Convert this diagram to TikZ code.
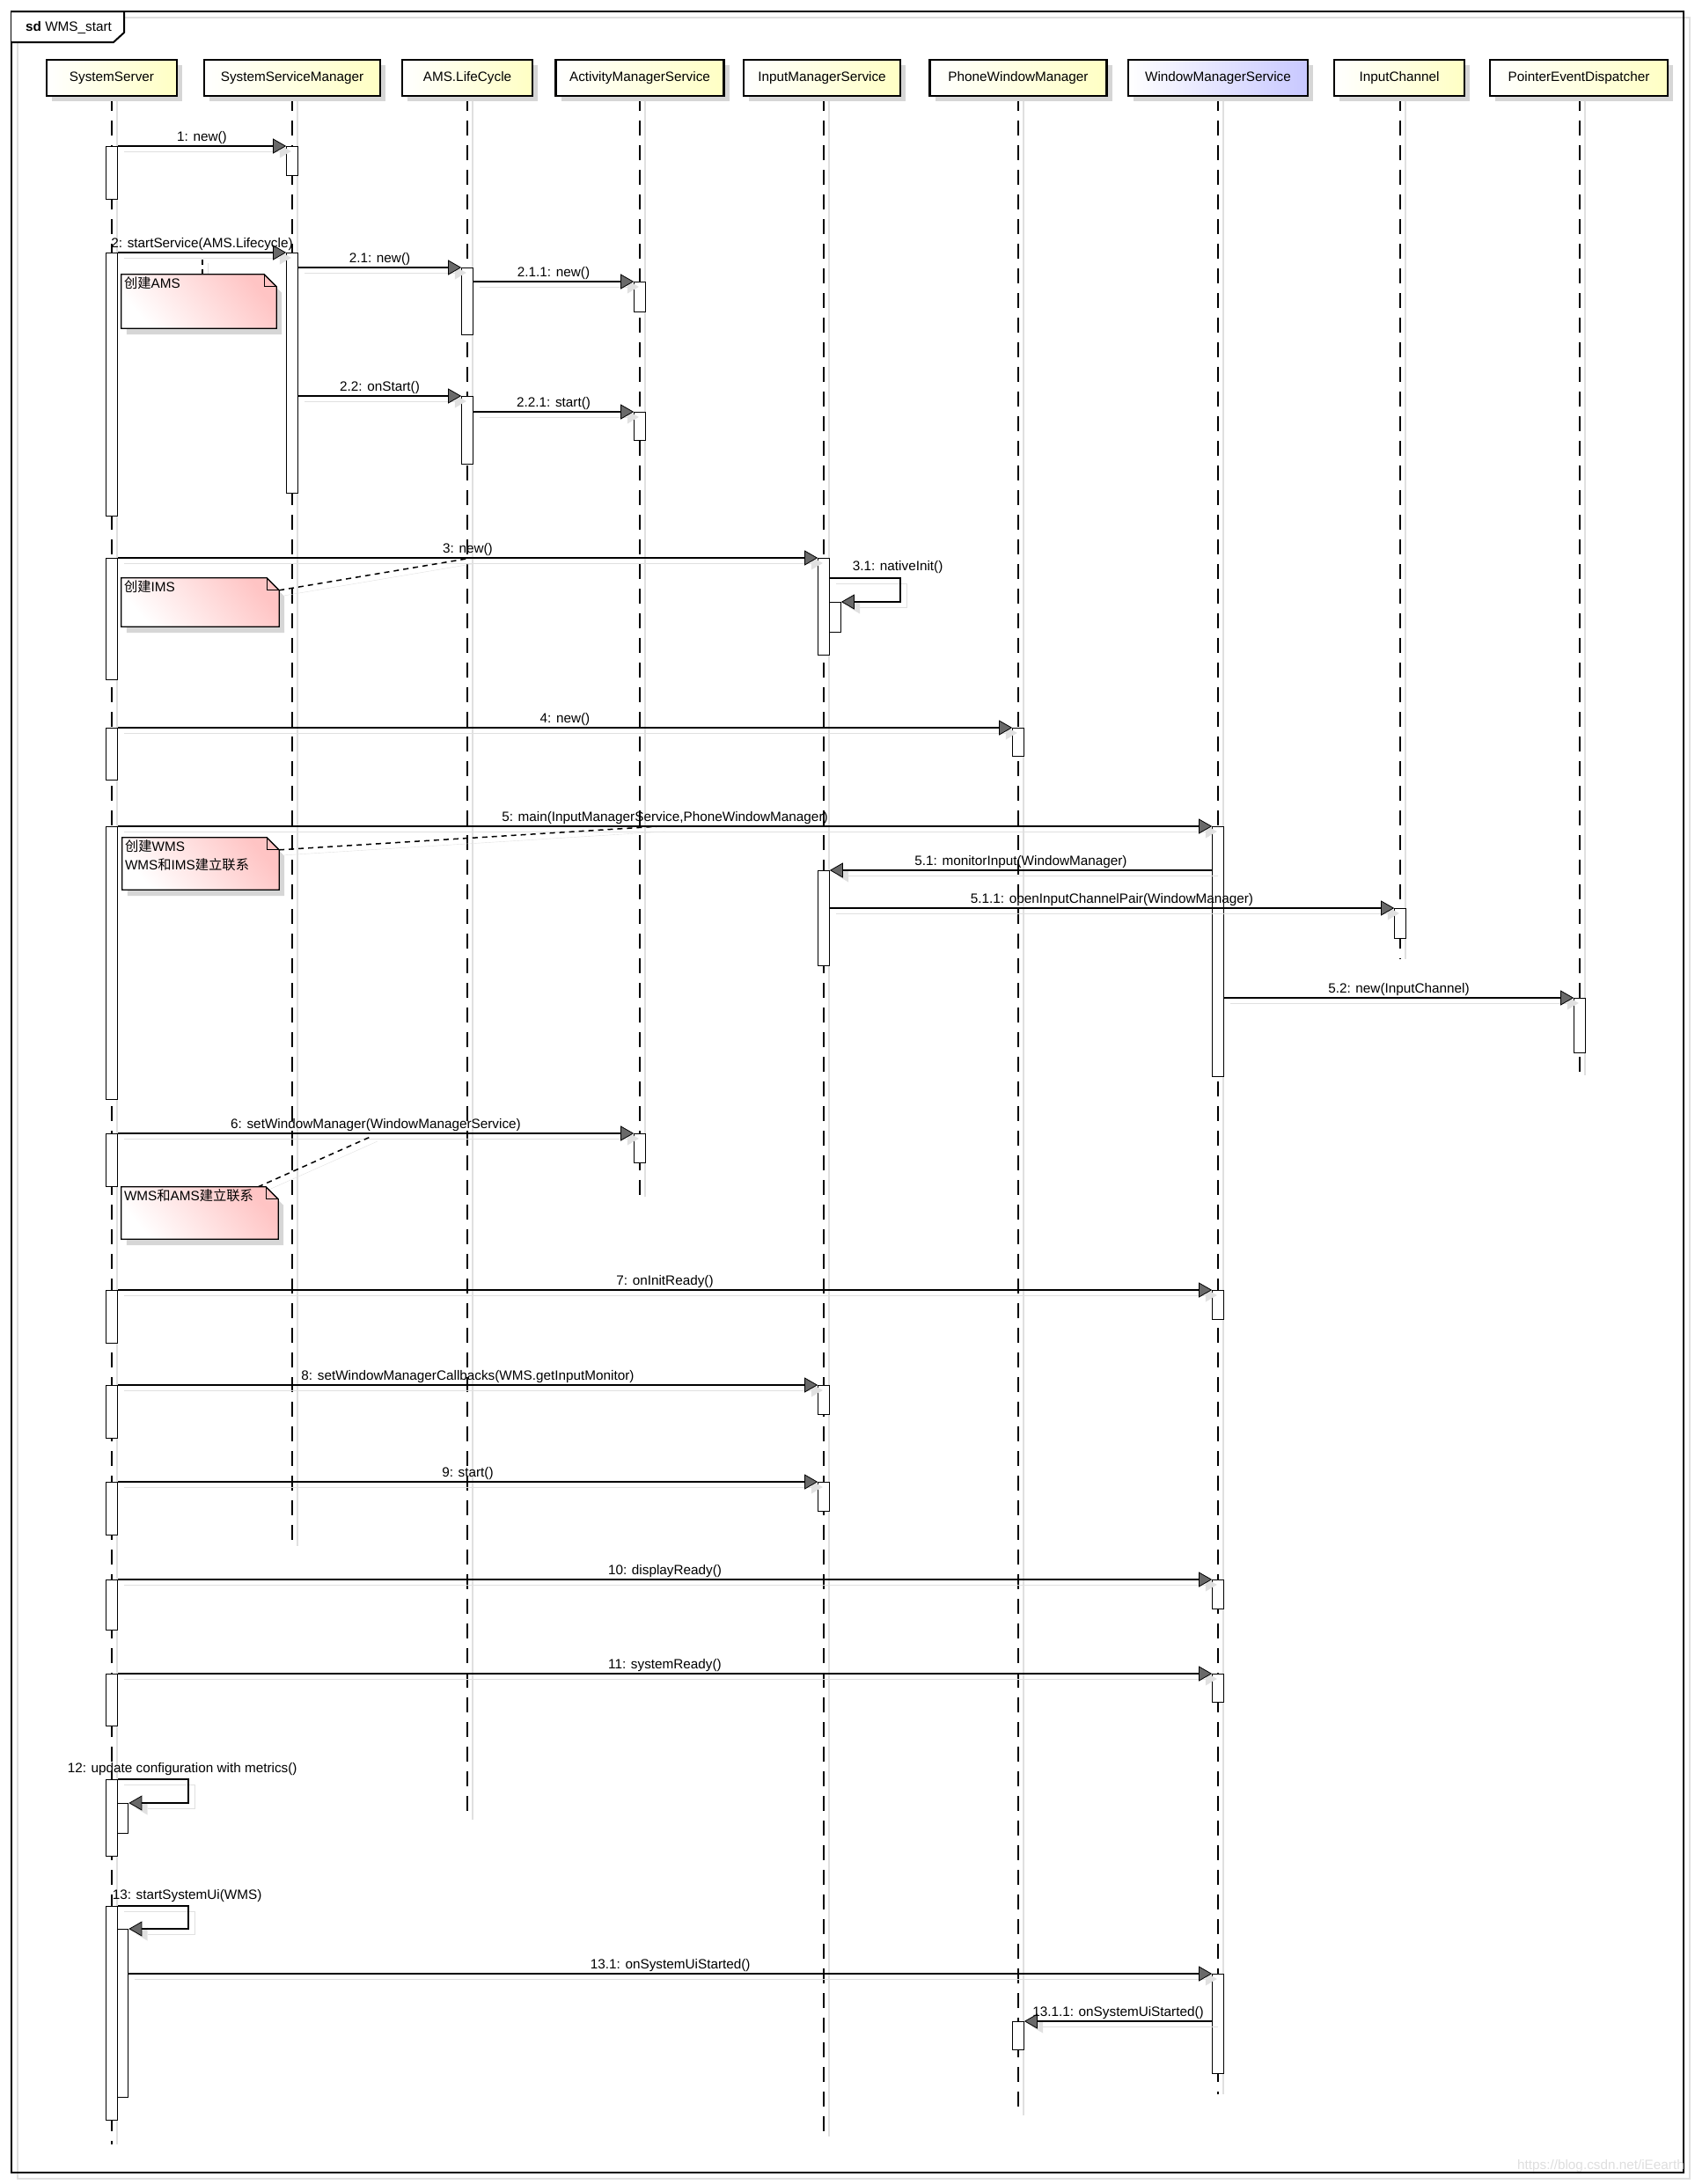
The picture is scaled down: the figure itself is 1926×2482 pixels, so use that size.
\documentclass[tikz,border=0pt]{standalone}
\usepackage{fontspec}
\setmainfont{Liberation Sans}
\newfontfamily\cjk{Noto Sans CJK SC}
\usepackage{tikz}
\usetikzlibrary{arrows.meta,shadows}
\definecolor{hdryellow}{RGB}{255,255,196}
\definecolor{hdrblue}{RGB}{200,200,255}
\definecolor{notepink}{RGB}{255,196,196}
\definecolor{shadegray}{RGB}{214,214,214}
\definecolor{lineshade}{RGB}{224,224,224}
\definecolor{tipgray}{RGB}{105,105,105}
\newcommand{\lblsize}{\fontsize{15.3}{21}\selectfont}
\newcommand{\fold}{14pt}
\newcommand{\notepath}[1]{(#1.north west) -- ([xshift=-\fold]#1.north east) -- ([yshift=-\fold]#1.north east) -- (#1.south east) -- (#1.south west) -- cycle}
\newcommand{\drawnote}[1]{%
    \fill[shadegray, transform canvas={shift={(6,7)}}] \notepath{#1};
    \shade[top color=notepink, bottom color=white, shading angle=-50] \notepath{#1};
    \draw[line width=1.3pt] \notepath{#1};
    \draw[line width=1.3pt] ([xshift=-\fold]#1.north east) |- ([yshift=-\fold]#1.north east);
}

\begin{document}
\begin{tikzpicture}[x=1pt, y=-1pt]
                        %\draw[help lines, step=100] (0,0) grid (1926,2482);
                        \useasboundingbox (0,0) rectangle (1926,2482);
                        \tikzset{
                            hdr/.style = {draw, line width=2.6pt, minimum height=41pt, inner sep=2pt, font=\lblsize,
                                left color=white, right color=hdryellow,
                                drop shadow={shadow xshift=6pt, shadow yshift=-6pt, fill=shadegray, opacity=1}},
                            lifeline/.style = {line width=1.4pt, dash pattern=on 17pt off 11pt},
                            lifeshade/.style = {lineshade, line width=1.4pt},
                            bar/.style = {draw, fill=white, line width=1.2pt, minimum width=12.5pt, inner sep=0pt, anchor=north},
                            msg/.style = {line width=1.8pt, -{Triangle[length=15pt, width=17pt, fill=tipgray, line width=0.8pt]},
                                preaction={draw=lineshade, -{Triangle[length=15pt, width=17pt, fill=lineshade, color=lineshade]},
                                transform canvas={shift={(7,6)}}}},
                            lbl/.style = {anchor=south, inner sep=1pt, font=\lblsize},
                            notelink/.style = {line width=1.5pt, dash pattern=on 6pt off 5pt,
                                preaction={draw=lineshade, solid, transform canvas={shift={(6,6)}}}},
                            notetext/.style = {anchor=north west, inner sep=3pt, align=left, font=\lblsize},
                            notebox/.style = {inner sep=0pt, draw=none}
                        }
                        % frame
                        \draw[lineshade, line width=1.5pt] (20,20) rectangle (1920,2476);
                        \draw[line width=2pt] (13,13) rectangle (1913,2469);
                        \draw[line width=2pt, fill=white] (13,13) -- (141,13) -- (141,37) -- (129,48) -- (13,48);
                        \node[anchor=west, inner sep=0pt, font=\lblsize] (sd) at (29,31) {\textbf{sd} WMS\_start};
                        \node[anchor=east, inner sep=0pt, font=\lblsize, text=black!13] (wm) at (1914,2462) {https://blog.csdn.net/iEearth};

                        % lifelines
                        \coordinate (ss-end) at (127,2437);
                        \coordinate (ssm-end) at (332,1757);
                        \coordinate (lc-end) at (531,2068);
                        \coordinate (ams-end) at (727,1360);
                        \coordinate (ims-end) at (936,2428);
                        \coordinate (pwm-end) at (1157,2404);
                        \coordinate (wms-end) at (1384,2380);
                        \coordinate (ic-end) at (1591,1090);
                        \coordinate (ped-end) at (1795,1222);
                        \coordinate (ss-top) at (127,109);
                        \coordinate (ssm-top) at (332,109);
                        \coordinate (lc-top) at (531,109);
                        \coordinate (ams-top) at (727,109);
                        \coordinate (ims-top) at (936,109);
                        \coordinate (pwm-top) at (1157,109);
                        \coordinate (wms-top) at (1384,109);
                        \coordinate (ic-top) at (1591,109);
                        \coordinate (ped-top) at (1795,109);
                        \foreach \n in {ss,ssm,lc,ams,ims,pwm,wms,ic,ped}{
                            \draw[lifeshade] ([xshift=6pt]\n-top) -- ([xshift=6pt]\n-end);
                            \draw[lifeline] (\n-top) -- (\n-end);
                        }

                        % heads
                        \begin{scope}
                            \node[hdr, minimum width=148pt] (ss) at (127,88.5) {SystemServer};
                            \node[hdr, minimum width=200pt] (ssm) at (332,88.5) {SystemServiceManager};
                            \node[hdr, minimum width=148pt] (lc) at (531,88.5) {AMS.LifeCycle};
                            \node[hdr, minimum width=191pt] (ams) at (727,88.5) {ActivityManagerService};
                            \node[hdr, minimum width=178pt] (ims) at (934,88.5) {InputManagerService};
                            \node[hdr, minimum width=201pt] (pwm) at (1157,88.5) {PhoneWindowManager};
                            \node[hdr, minimum width=204pt, right color=hdrblue] (wms) at (1384,88.5) {WindowManagerService};
                            \node[hdr, minimum width=148pt] (ic) at (1590,88.5) {InputChannel};
                            \node[hdr, minimum width=202pt] (ped) at (1794,88.5) {PointerEventDispatcher};
                        \end{scope}

                        % activations
                        \foreach \b/\x/\y/\h in {ss1/127/166/60, ssm1/332/166/33, ss2/127/287/299, ssm2/332/287/273,
                            lc1/531/304/76, ams1/727/320/34, lc2/531/450/77, ams2/727/468/32,
                            ss3/127/634/138, ims1/936/634/110, ims1b/949/684/34, ss4/127/827/59, pwm1/1157/827/32,
                            ss5/127/939/310, wms1/1384/939/284, ims2/936/989/108, ic1/1591/1032/34, ped1/1795/1134/62,
                            ss6/127/1288/60, ams3/727/1288/33, ss7/127/1466/60, wms2/1384/1466/33,
                            ss8/127/1574/60, ims3/936/1574/33, ss9/127/1684/60, ims4/936/1684/33,
                            ss10/127/1795/57, wms3/1384/1795/33, ss11/127/1902/59, wms4/1384/1902/32,
                            ss12/127/2022/87, ss12b/139.5/2049/34, ss13/127/2166/243, ss13b/139.5/2192/191,
                            wms5/1384/2243/113, pwm2/1157/2297/32}
                            \node[bar, minimum height=\h pt] (\b) at (\x,\y) {};

                        % messages
                        \draw[msg] (ss1.north east) -- node[lbl] (l1) {1: new()} (ssm1.north west);
                        \draw[msg] (ss2.north east) -- node[lbl] (l2) {2: startService(AMS.Lifecycle)} (ssm2.north west);
                        \draw[msg] (ssm2.east |- lc1.north) -- node[lbl] (l21) {2.1: new()} (lc1.north west);
                        \draw[msg] (lc1.east |- ams1.north) -- node[lbl] (l211) {2.1.1: new()} (ams1.north west);
                        \draw[msg] (ssm2.east |- lc2.north) -- node[lbl] (l22) {2.2: onStart()} (lc2.north west);
                        \draw[msg] (lc2.east |- ams2.north) -- node[lbl] (l221) {2.2.1: start()} (ams2.north west);
                        \draw[msg] (ss3.north east) -- node[lbl] (l3) {3: new()} (ims1.north west);
                        \draw[msg] ([yshift=-23pt]ims1.north east) node[lbl, anchor=south west, xshift=24pt, yshift=3pt] (l31) {3.1: nativeInit()}
                            -- ++(80,0) -- ++(0,27) -- (ims1b.north east);
                        \draw[msg] (ss4.north east) -- node[lbl] (l4) {4: new()} (pwm1.north west);
                        \draw[msg] (ss5.north east) -- node[lbl] (l5) {5: main(InputManagerService,PhoneWindowManager)} (wms1.north west);
                        \draw[msg] (wms1.west |- ims2.north) -- node[lbl] (l51) {5.1: monitorInput(WindowManager)} (ims2.north east);
                        \draw[msg] (ims2.east |- ic1.north) -- node[lbl] (l511) {5.1.1: openInputChannelPair(WindowManager)} (ic1.north west);
                        \draw[msg] (wms1.east |- ped1.north) -- node[lbl] (l52) {5.2: new(InputChannel)} (ped1.north west);
                        \draw[msg] (ss6.north east) -- node[lbl] (l6) {6: setWindowManager(WindowManagerService)} (ams3.north west);
                        \draw[msg] (ss7.north east) -- node[lbl] (l7) {7: onInitReady()} (wms2.north west);
                        \draw[msg] (ss8.north east) -- node[lbl] (l8) {8: setWindowManagerCallbacks(WMS.getInputMonitor)} (ims3.north west);
                        \draw[msg] (ss9.north east) -- node[lbl] (l9) {9: start()} (ims4.north west);
                        \draw[msg] (ss10.north east) -- node[lbl] (l10) {10: displayReady()} (wms3.north west);
                        \draw[msg] (ss11.north east) -- node[lbl] (l11) {11: systemReady()} (wms4.north west);
                        \draw[msg] (ss12.north east) node[lbl, anchor=south west, xshift=-59pt, yshift=2pt] (l12) {12: update configuration with metrics()}
                            -- ++(80,0) -- ++(0,27) -- (ss12b.north east);
                        \draw[msg] (ss13.north east) node[lbl, anchor=south west, xshift=-8pt, yshift=2pt] (l13) {13: startSystemUi(WMS)}
                            -- ++(80,0) -- ++(0,26) -- (ss13b.north east);
                        \draw[msg] (ss13b.east |- wms5.north) -- node[lbl] (l131) {13.1: onSystemUiStarted()} (wms5.north west);
                        \draw[msg] (wms5.west |- pwm2.north) -- node[lbl] (l1311) {13.1.1: onSystemUiStarted()} (pwm2.north east);

                        % notes
                        \node[notebox, minimum width=176pt, minimum height=61pt] (n2) at (226,342.5) {};
                        \node[notebox, minimum width=179pt, minimum height=55pt] (n3) at (227.5,684.5) {};
                        \node[notebox, minimum width=178pt, minimum height=59pt] (n5) at (228,981.5) {};
                        \node[notebox, minimum width=178pt, minimum height=59pt] (n6) at (227,1378.5) {};
                        \coordinate (c2) at (230,293);
                        \coordinate (c3) at (530,635);
                        \coordinate (c5) at (750,939);
                        \coordinate (c6) at (423,1291);
                        \draw[notelink] ([xshift=4pt]n2.north) -- (c2);
                        \draw[notelink] ([yshift=-\fold]n3.north east) -- (c3);
                        \draw[notelink] ([yshift=-\fold]n5.north east) -- (c5);
                        \draw[notelink] ([xshift=-23pt]n6.north east) -- (c6);
                        \drawnote{n2}
                        \drawnote{n3}
                        \drawnote{n5}
                        \drawnote{n6}
                        \node[notetext] (n2t) at (n2.north west) {{\cjk 创建}AMS};
                        \node[notetext] (n3t) at (n3.north west) {{\cjk 创建}IMS};
                        \node[notetext] (n5t) at (n5.north west) {{\cjk 创建}WMS\\WMS{\cjk 和}IMS{\cjk 建立联系}};
                        \node[notetext] (n6t) at (n6.north west) {WMS{\cjk 和}AMS{\cjk 建立联系}};
\end{tikzpicture}
\end{document}
